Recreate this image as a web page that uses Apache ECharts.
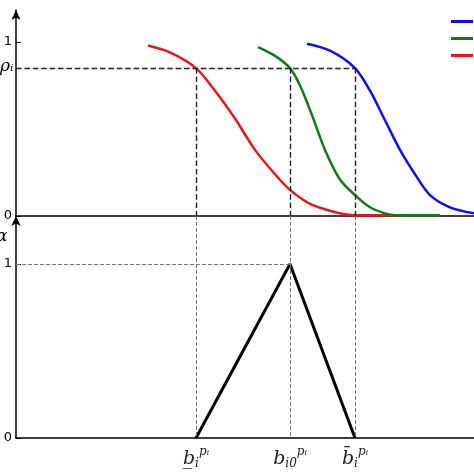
<!DOCTYPE html>
<html><head><meta charset="utf-8">
<script src="https://cdn.jsdelivr.net/npm/echarts@6/dist/echarts.min.js"></script>
<style>html,body{margin:0;background:#fff}#c{width:474px;height:474px}</style>
</head><body><div id="c"></div>
<script>
// x in plot units, y in probability
const redCurve = [[132,0.98],[154,0.94],[180,0.85],[199,0.72],[219,0.56],[239,0.38],[259,0.24],[274,0.15],[294,0.07],[314,0.03],[329,0.01],[344,0.005],[424,0.005]];
const greenCurve = [[242,0.97],[259,0.92],[274,0.85],[284,0.75],[296,0.58],[309,0.38],[324,0.21],[339,0.12],[354,0.05],[369,0.015],[379,0.005],[424,0.005]];
const blueCurve = [[291,0.99],[314,0.95],[339,0.85],[354,0.72],[369,0.55],[384,0.38],[399,0.24],[414,0.12],[434,0.05],[458,0.015]];
const alphaTri = [[180,0],[274,1],[339,0]];
const bPoints = [180, 274, 339];
const levelRho = 0.85;
const bLabels = ['{b|b̲}{sub|i}{s|pᵢ}', '{b|b}{sub|i0}{s|pᵢ}', '{b|b̄}{sub|i}{s|pᵢ}'];

const chart = echarts.init(document.getElementById('c'));
const dash = {type:'dashed', color:'#222', width:1.4};
const dashLight = {type:'dashed', color:'#777', width:1};
const yBase = (gi, max) => ({
  gridIndex: gi, type:'value', min:0, max:max,
  splitLine:{show:false},
  axisLine:{show:true, lineStyle:{color:'#000', width:1.5}, symbol:['none','arrow'], symbolSize:[7,10]},
  axisTick:{show:true, customValues:[0,1], length:5, inside:true, lineStyle:{color:'#000'}},
  axisLabel:{customValues:[0,1], color:'#000', fontSize:13, margin:4, fontFamily:'DejaVu Sans'}
});
const xBase = (gi, labels) => ({
  gridIndex: gi, type:'value', min:0, max:458,
  splitLine:{show:false},
  axisLine:{lineStyle:{color:'#000', width:1.5}},
  axisTick:{show:false},
  axisLabel: labels ? {
    customValues: bPoints, margin:8,
    formatter: v => bLabels[bPoints.indexOf(v)],
    rich:{
      b:{fontFamily:'DejaVu Serif', fontStyle:'italic', fontSize:19, color:'#222'},
      s:{fontFamily:'DejaVu Serif', fontStyle:'italic', fontSize:12, color:'#222', verticalAlign:'top', padding:[0,0,14,0]},
      sub:{fontFamily:'DejaVu Serif', fontStyle:'italic', fontSize:12, color:'#222', padding:[10,0,0,0]}
    }
  } : {show:false}
});
const line = (name, data, color) => ({
  name, type:'line', data, smooth:0.3, symbol:'none', xAxisIndex:0, yAxisIndex:0,
  lineStyle:{color, width:2.5}, itemStyle:{color}
});
chart.setOption({
  animation:false,
  legend:{right:-4, top:15, orient:'vertical', itemWidth:22, itemHeight:3, itemGap:14, icon:'rect',
    formatter:()=>'', data:['blue','green','red']},
  grid:[{left:16, right:0, top:10, height:206}, {left:16, right:0, top:216, bottom:36}],
  xAxis:[xBase(0,false), xBase(1,true)],
  yAxis:[yBase(0, 206/174), yBase(1, 222/174)],
  graphic:[
    {type:'text', left:0, top:58, style:{text:'ρᵢ', fontFamily:'DejaVu Serif', fontStyle:'italic', fontSize:17, fill:'#000'}},
    {type:'text', left:-4, top:228, style:{text:'α', fontFamily:'DejaVu Serif', fontStyle:'italic', fontSize:17, fill:'#000'}}
  ],
  series:[
    line('red', redCurve, '#e31a1c'),
    line('green', greenCurve, '#127a12'),
    line('blue', blueCurve, '#1010e8'),
    {type:'line', data:[], xAxisIndex:0, yAxisIndex:0, silent:true,
      markLine:{symbol:'none', silent:true, lineStyle:dash, label:{show:false},
        data:[[{coord:[0,levelRho]},{coord:[bPoints[2],levelRho]}]]
          .concat(bPoints.map(x=>[{coord:[x,levelRho]},{coord:[x,0]}]))}},
    {type:'line', data:alphaTri, xAxisIndex:1, yAxisIndex:1, symbol:'none',
      lineStyle:{color:'#000', width:3},
      markLine:{symbol:'none', silent:true, lineStyle:dashLight, label:{show:false},
        data:[[{coord:[0,1]},{coord:[bPoints[1],1]}]]
          .concat(bPoints.map(x=>[{coord:[x,222/174]},{coord:[x,0]}]))}}
  ]
});
</script></body></html>
